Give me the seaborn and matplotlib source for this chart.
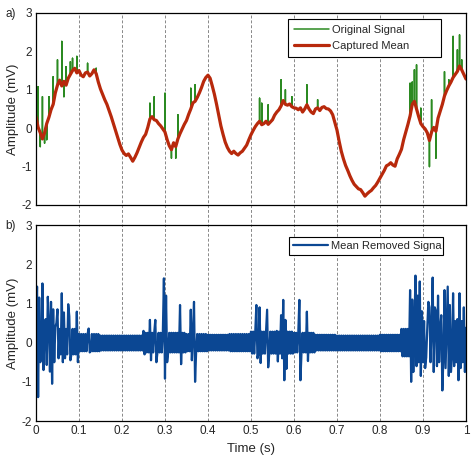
import numpy as np
import matplotlib
matplotlib.use("Agg")
import matplotlib.pyplot as plt
import seaborn as sns

# captured mean (mV), one value every 5 ms from 0 to 1 s
captured_mean = [
    0.30, 0.02, -0.12, -0.28, -0.12, 0.12, 0.28, 0.48, 0.62, 0.92,
    1.12, 1.25, 1.10, 1.22, 1.12, 1.30, 1.40, 1.50, 1.56, 1.44,
    1.50, 1.38, 1.34, 1.44, 1.46, 1.36, 1.42, 1.52, 1.42, 1.20,
    1.02, 0.88, 0.74, 0.62, 0.46, 0.30, 0.12, -0.06, -0.24, -0.42,
    -0.57, -0.66, -0.71, -0.67, -0.76, -0.86, -0.76, -0.64, -0.50, -0.36,
    -0.24, -0.16, 0.02, 0.24, 0.30, 0.22, 0.20, 0.12, 0.06, -0.02,
    -0.10, -0.30, -0.46, -0.56, -0.38, -0.48, -0.28, -0.14, -0.02, 0.10,
    0.20, 0.36, 0.50, 0.66, 0.70, 0.80, 0.92, 1.06, 1.22, 1.32,
    1.38, 1.30, 1.10, 0.88, 0.62, 0.34, 0.06, -0.16, -0.36, -0.50,
    -0.60, -0.66, -0.60, -0.66, -0.70, -0.64, -0.60, -0.52, -0.44, -0.30,
    -0.17, -0.06, 0.04, 0.12, 0.18, 0.09, 0.12, 0.18, 0.10, 0.16,
    0.22, 0.34, 0.42, 0.48, 0.58, 0.72, 0.62, 0.60, 0.63, 0.56,
    0.53, 0.52, 0.48, 0.53, 0.42, 0.50, 0.61, 0.50, 0.42, 0.38,
    0.50, 0.53, 0.46, 0.54, 0.56, 0.51, 0.50, 0.45, 0.35, 0.15,
    -0.05, -0.34, -0.60, -0.80, -0.97, -1.10, -1.24, -1.36, -1.46, -1.52,
    -1.58, -1.60, -1.68, -1.77, -1.71, -1.66, -1.62, -1.55, -1.49, -1.40,
    -1.30, -1.20, -1.10, -0.98, -0.95, -0.90, -0.96, -0.99, -0.80, -0.68,
    -0.55, -0.30, -0.10, 0.10, 0.32, 0.62, 0.70, 0.50, 0.30, 0.12,
    0.04, -0.02, -0.12, -0.32, -0.10, 0.02, -0.08, 0.26, 0.44, 0.62,
    0.84, 0.98, 1.10, 1.20, 1.32, 1.40, 1.48, 1.62, 1.52, 1.40,
    1.28,
]

# spikes of the original signal (time s, absolute value mV)
orig_spike_t = [0.005, 0.010, 0.015, 0.020, 0.025, 0.030, 0.040, 0.050, 0.060, 0.065,
                0.070, 0.080, 0.085, 0.095, 0.120, 0.140, 0.265, 0.275, 0.300, 0.315,
                0.325, 0.330, 0.360, 0.370, 0.520, 0.525, 0.540, 0.570, 0.580, 0.595,
                0.630, 0.655, 0.870, 0.875, 0.880, 0.885, 0.895, 0.915, 0.920, 0.930,
                0.950, 0.960, 0.970, 0.980, 0.985, 0.990]
orig_spike_v = [1.08, -0.48, 0.82, -0.39, -0.30, 0.82, 1.34, 1.78, 2.26, 0.82,
                1.60, 1.73, 1.82, 1.87, 1.69, 1.56, 0.65, 0.82, 0.91, -0.78,
                -0.78, 0.35, 1.04, 1.13, 0.78, 0.65, 0.61, 1.26, 1.00, 0.82,
                1.13, 0.74, 1.17, 1.20, 1.52, 1.65, 0.52, -1.00, 0.74, -0.78,
                1.47, 1.26, 2.39, 2.04, 2.43, 1.78]

# mean removed signal: noise band limits per 50 ms segment (mV)
band_hi = [0.40, 0.35, 0.22, 0.18, 0.18, 0.25, 0.25, 0.22, 0.20, 0.22,
           0.28, 0.28, 0.25, 0.20, 0.18, 0.18, 0.20, 0.35, 0.38, 0.38]
band_lo = [-0.35, -0.30, -0.22, -0.20, -0.20, -0.25, -0.25, -0.22, -0.20, -0.22,
           -0.28, -0.28, -0.25, -0.20, -0.20, -0.20, -0.22, -0.35, -0.38, -0.38]

# mean removed signal: spikes (time s, top mV, bottom mV)
spike_t = [0.002, 0.008, 0.014, 0.023, 0.027, 0.030, 0.035, 0.039, 0.048, 0.050,
           0.060, 0.066, 0.074, 0.078, 0.095, 0.122, 0.250, 0.265, 0.277, 0.298,
           0.302, 0.335, 0.360, 0.368, 0.513, 0.520, 0.538, 0.560, 0.570, 0.574,
           0.580, 0.612, 0.630, 0.870, 0.876, 0.883, 0.887, 0.893, 0.898, 0.903,
           0.912, 0.916, 0.922, 0.927, 0.931, 0.935, 0.943, 0.949, 0.957, 0.962,
           0.969, 0.975, 0.980, 0.984, 0.990, 0.995]
spike_up = [1.43, 1.15, 1.51, 0.60, 1.17, 0.50, 1.04, 0.85, 0.50, 0.85,
            1.26, 0.77, 0.98, 0.67, 0.79, 0.36, 0.30, 0.58, 0.58, 1.64,
            1.20, 0.96, 0.84, 1.04, 0.96, 0.90, 0.84, 0.30, 0.70, 1.09,
            0.58, 1.09, 0.79, 1.34, 1.10, 1.71, 1.20, 1.56, 0.80, 0.55,
            1.04, 0.90, 1.66, 0.90, 0.80, 1.20, 0.70, 1.34, 1.43, 0.96,
            1.26, 0.55, 0.60, 1.26, 0.55, 0.90]
spike_down = [-1.39, -0.50, -0.70, -0.57, -0.45, -0.74, -1.05, -0.50, -0.60, -0.40,
              -0.50, -0.40, -0.45, -0.45, -0.50, -0.25, -0.30, -0.45, -0.50, -0.92,
              -0.50, -0.55, -0.45, -1.00, -0.40, -0.52, -0.63, -0.48, -0.40, -0.96,
              -0.67, -0.96, -0.47, -1.00, -0.75, -0.60, -0.50, -0.85, -0.50, -0.65,
              -1.13, -0.50, -0.75, -0.50, -0.60, -0.50, -1.22, -0.65, -0.85, -0.75,
              -0.60, -0.50, -0.96, -0.65, -0.50, -0.75]

grid_lines = [0.1, 0.2, 0.3, 0.4, 0.5, 0.6, 0.7, 0.8, 0.9]
x_ticks = [0, 0.1, 0.2, 0.3, 0.4, 0.5, 0.6, 0.7, 0.8, 0.9, 1]
x_tick_labels = ["0", "0.1", "0.2", "0.3", "0.4", "0.5", "0.6", "0.7", "0.8", "0.9", "1"]
y_ticks = [-2, -1, 0, 1, 2, 3]

# --- build the series ---
dt_mean = 0.005
t_mean = np.arange(len(captured_mean)) * dt_mean
red = np.array(captured_mean)

# original signal: the mean trace with thin vertical spikes at the read times
spikes_at = {}
for t, v in zip(orig_spike_t, orig_spike_v):
    spikes_at.setdefault(int(np.rint(t / dt_mean)), []).append(v)
gx, gy = [], []
for j, (t, r) in enumerate(zip(t_mean, red)):
    gx.append(t)
    gy.append(r)
    for v in spikes_at.get(j, []):
        gx += [t, t]
        gy += [v, r]

# mean removed signal: noise band + spikes
dt_res = 0.0025
hi = np.append(np.repeat(band_hi, 20), band_hi[-1])
lo = np.append(np.repeat(band_lo, 20), band_lo[-1])
t_res = np.arange(len(hi)) * dt_res
blue = np.where(np.arange(len(hi)) % 2 == 0, hi, lo)
for t, d in zip(spike_t, spike_down):
    i = int(np.rint(t / dt_res))
    if i + 1 < len(blue):
        blue[i + 1] = d
for t, u in zip(spike_t, spike_up):
    blue[int(np.rint(t / dt_res))] = u

sns.set_style("white")
plt.rcParams["font.family"] = ["Liberation Sans", "DejaVu Sans"]
plt.rcParams["axes.unicode_minus"] = False

fig = plt.figure(figsize=(4.74, 4.62), dpi=100)
ax_a = fig.add_axes([0.0759, 0.5563, 0.9072, 0.4156])
ax_b = fig.add_axes([0.0759, 0.0887, 0.9072, 0.4242])

for x in grid_lines:
    ax_a.axvline(x, ymin=-0.115, ymax=1, color="#888888", ls=(0, (3, 2)), lw=0.7,
                 clip_on=False, zorder=0.5)
    ax_b.axvline(x, color="#888888", ls=(0, (3, 2)), lw=0.7, zorder=0.5)

sns.lineplot(x=gx, y=gy, ax=ax_a, color="#2b8a21", lw=1.1,
             label="Original Signal", estimator=None, sort=False)
sns.lineplot(x=t_mean, y=red, ax=ax_a, color="#b8290c", lw=2.3,
             label="Captured Mean", estimator=None, sort=False)
sns.lineplot(x=t_res, y=blue, ax=ax_b, color="#0b4793", lw=1.6,
             label="Mean Removed Signa", estimator=None, sort=False)

for ax in (ax_a, ax_b):
    ax.set_xlim(0, 1)
    ax.set_ylim(-2, 3)
    ax.set_yticks(y_ticks)
    ax.set_xticks(x_ticks)
    ax.set_ylabel("Amplitude (mV)", fontsize=9.5, labelpad=2)
    ax.tick_params(direction="in", length=3, width=0.6, labelsize=8.5, pad=3)
    for s in ax.spines.values():
        s.set_color("black")
        s.set_linewidth(0.9)

ax_a.tick_params(labelbottom=False)
ax_a.set_xlabel("")
ax_b.set_xticklabels(x_tick_labels)
ax_b.set_xlabel("Time (s)", fontsize=9.5, labelpad=4)

# MATLAB style legend boxes of fixed width
leg_a = ax_a.legend(loc="upper left", bbox_to_anchor=(288 / 474, 1 - 55 / 462, 153 / 474, 36 / 462),
                    bbox_transform=fig.transFigure, mode="expand", borderaxespad=0,
                    fontsize=8, handlelength=3.15, handletextpad=0.3, frameon=True,
                    fancybox=False, edgecolor="black", framealpha=1,
                    borderpad=0.55, labelspacing=0.5)
leg_b = ax_b.legend(loc="upper left", bbox_to_anchor=(289 / 474, 1 - 256 / 462, 154 / 474, 19 / 462),
                    bbox_transform=fig.transFigure, mode="expand", borderaxespad=0,
                    fontsize=8, handlelength=3.15, handletextpad=0.3, frameon=True,
                    fancybox=False, edgecolor="black", framealpha=1, borderpad=0.35)
for leg in (leg_a, leg_b):
    leg.get_frame().set_linewidth(0.8)

fig.text(5 / 474, 1 - 14 / 462, "a)", fontsize=8.5, va="center")
fig.text(5 / 474, 1 - 226 / 462, "b)", fontsize=8.5, va="center")

fig.savefig("out.png", dpi=100)
